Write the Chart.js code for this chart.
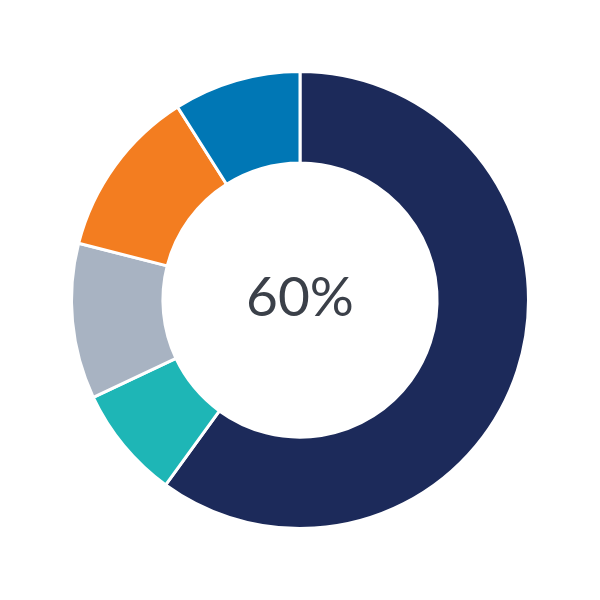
<!DOCTYPE html>
<html>
<head>
<meta charset="utf-8">
<script src="https://cdn.jsdelivr.net/npm/chart.js@4"></script>
<style>
  html, body { margin: 0; padding: 0; background: #fff; }
  #wrap { width: 600px; height: 600px; }
</style>
</head>
<body>
<div id="wrap"><canvas id="donut" width="600" height="600"></canvas></div>
<script>
const labels = ["A", "B", "C", "D", "E"];
const values = [60, 8, 11, 12, 9];
const colors = ["#1c2a5a", "#1eb6b6", "#a8b3c2", "#f37d20", "#0077b5"];
const centerText = "60%";

// texto central
const centerLabel = {
  id: "centerLabel",
  afterDraw(chart) {
    const { ctx, chartArea } = chart;
    const x = (chartArea.left + chartArea.right) / 2;
    const y = (chartArea.top + chartArea.bottom) / 2;
    ctx.save();
    ctx.font = "400 55px Lato";
    ctx.fillStyle = "#3b4049";
    ctx.textAlign = "center";
    ctx.textBaseline = "middle";
    ctx.fillText(centerText, x, y - 2);
    ctx.restore();
  }
};

new Chart(document.getElementById("donut"), {
  type: "doughnut",
  data: {
    labels,
    datasets: [{
      data: values,
      backgroundColor: colors,
      borderColor: "#ffffff",
      borderWidth: 3,
      hoverOffset: 0
    }]
  },
  options: {
    responsive: false,
    animation: false,
    cutout: "60%",
    layout: { padding: 70 },
    plugins: {
      legend: { display: false },
      tooltip: { enabled: false }
    }
  },
  plugins: [centerLabel]
});
</script>
</body>
</html>
